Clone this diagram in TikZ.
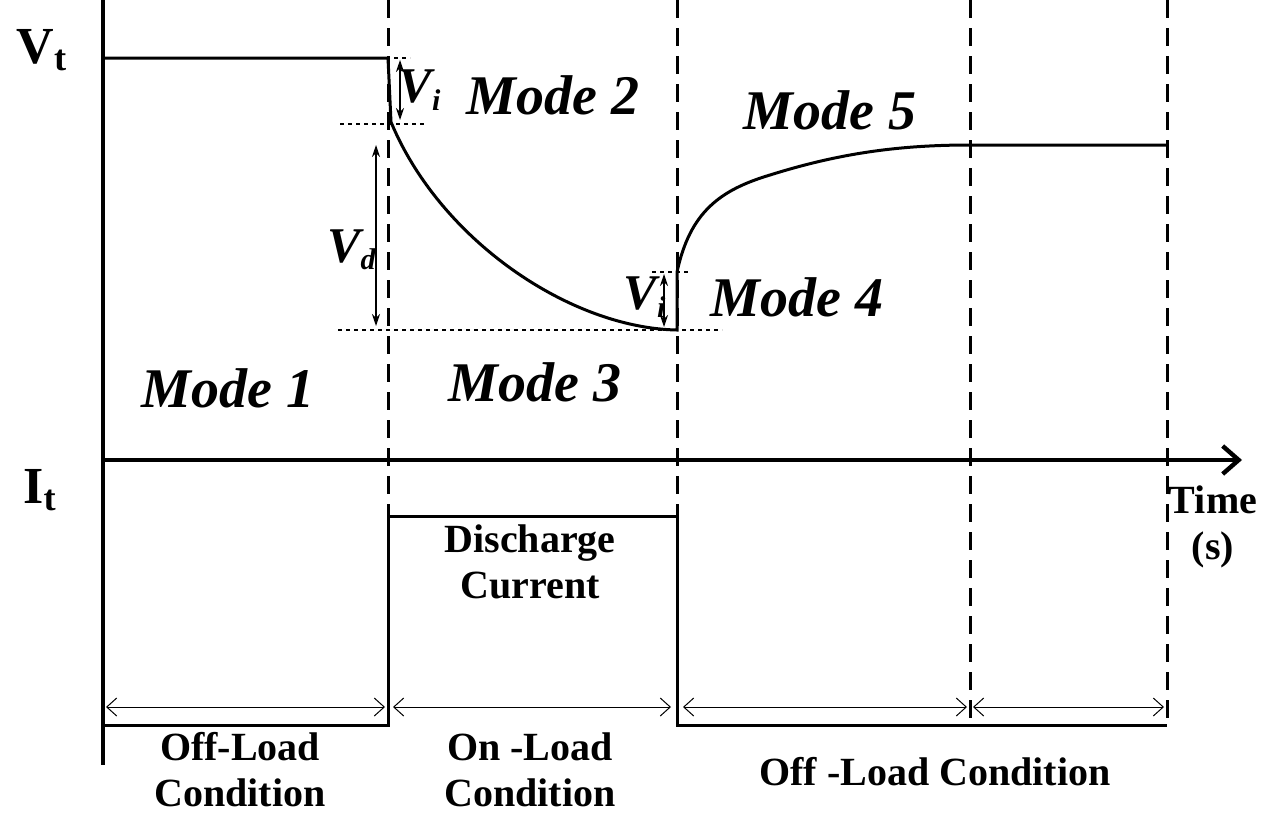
\documentclass[tikz,border=0pt]{standalone}
\usepackage{fontspec}
\setmainfont{Liberation Serif}
\usetikzlibrary{arrows.meta}
\begin{document}
\begin{tikzpicture}[x=0.5pt,y=-0.5pt,
  ax/.style={line width=2.2pt},
  sig/.style={line width=1.5pt},
  dsh/.style={line width=1.5pt,dash pattern=on 9pt off 5pt},
  dot/.style={line width=0.6pt,dash pattern=on 2pt off 2pt},
  dim/.style={line width=0.6pt,{Stealth[length=6pt,width=4pt]}-{Stealth[length=6pt,width=4pt]}},
  span/.style={line width=0.5pt,{Straight Barb[length=5pt,width=9pt]}-{Straight Barb[length=5pt,width=9pt]}},
  mode/.style={font=\fontsize{28}{30}\selectfont\bfseries\itshape},
  lab/.style={font=\fontsize{20}{23}\selectfont\bfseries,align=center},
  big/.style={font=\fontsize{26}{28}\selectfont\bfseries},
  vl/.style={font=\fontsize{25}{27}\selectfont\bfseries\itshape}]
\useasboundingbox (0,0) rectangle (1280,820);
\coordinate (yt) at (103,0); \coordinate (yb) at (103,765);
\coordinate (xo) at (103,460); \coordinate (xe) at (1242,460);
\draw[ax] (yt) -- (yb);
\draw[ax,-{Straight Barb[length=8pt,width=14pt]}] (xo) -- (xe);
\coordinate (d1t) at (388,0); \coordinate (d1b) at (388,700);
\coordinate (d2t) at (677,0); \coordinate (d2b) at (677,700);
\coordinate (d3t) at (970,0); \coordinate (d3b) at (970,725);
\coordinate (d4t) at (1167,0); \coordinate (d4b) at (1167,725);
\draw[dsh] (d1t) -- (d1b); \draw[dsh] (d2t) -- (d2b);
\draw[dsh] (d3t) -- (d3b); \draw[dsh] (d4t) -- (d4b);
\coordinate (v0) at (103,58); \coordinate (v1) at (388,58);
\coordinate (v2) at (391,122); \coordinate (v3) at (677,330);
\coordinate (v4) at (677,272); \coordinate (v5) at (970,145); \coordinate (v6) at (1167,145);
\draw[sig] (v0) -- (v1) -- (v2) .. controls (440,240) and (570,328) .. (v3) -- (v4)
  .. controls (690,212) and (720,190) .. (770,175) .. controls (840,153) and (900,145) .. (v5) -- (v6);
\draw[dot] (370,58) -- (410,58);
\draw[dot] (340,124) -- (425,124);
\draw[dot] (338,330) -- (722,330);
\draw[dot] (652,272) -- (690,272);
\coordinate (a1) at (400,60); \coordinate (a2) at (400,120);
\coordinate (a3) at (376,145); \coordinate (a4) at (376,326);
\coordinate (a5) at (664,274); \coordinate (a6) at (664,327);
\draw[dim] (a1) -- (a2); \draw[dim] (a3) -- (a4); \draw[dim] (a5) -- (a6);
\node[vl] (vi1) at (420,90) {V\textsubscript{\fontsize{15}{15}\selectfont i}};
\node[vl] (vd) at (352,250) {V\textsubscript{\fontsize{15}{15}\selectfont d}};
\node[vl] (vi2) at (645,297) {V\textsubscript{\fontsize{15}{15}\selectfont i}};
\coordinate (c0) at (103,725); \coordinate (c1) at (388,725); \coordinate (c2) at (388,516);
\coordinate (c3) at (677,516); \coordinate (c4) at (677,725); \coordinate (c5) at (1167,725);
\draw[sig] (c0) -- (c1) -- (c2) -- (c3) -- (c4) -- (c5);
\coordinate (s1) at (106,707); \coordinate (s2) at (385,707);
\coordinate (s3) at (393,707); \coordinate (s4) at (671,707);
\coordinate (s5) at (683,707); \coordinate (s6) at (967,707);
\coordinate (s7) at (973,707); \coordinate (s8) at (1164,707);
\draw[span] (s1) -- (s2); \draw[span] (s3) -- (s4);
\draw[span] (s5) -- (s6); \draw[span] (s7) -- (s8);
\node[big] (vt) at (42,50) {V\textsubscript{t}};
\node[big] (it) at (40,490) {I\textsubscript{t}};
\node[mode] (m1) at (228,388) {Mode 1};
\node[mode] (m2) at (553,95) {Mode 2};
\node[mode] (m3) at (535,382) {Mode 3};
\node[mode] (m4) at (797,297) {Mode 4};
\node[mode] (m5) at (830,110) {Mode 5};
\node[lab] (dc) at (530,562) {Discharge\\Current};
\node[lab] (tm) at (1213,527) {Time\\(s)};
\node[lab] (ol1) at (240,770) {Off-Load\\Condition};
\node[lab] (onl) at (530,770) {On -Load\\Condition};
\node[lab] (ol2) at (935,772) {Off -Load Condition};
\end{tikzpicture}
\end{document}
